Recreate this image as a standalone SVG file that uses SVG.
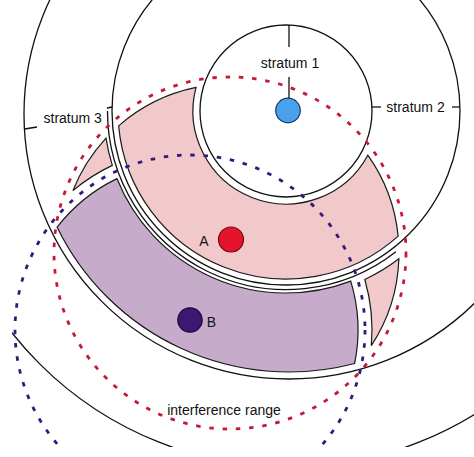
<svg xmlns="http://www.w3.org/2000/svg" width="474" height="457" viewBox="0 0 474 457">
<defs>
<clipPath id="frame"><rect x="12" y="0" width="462" height="447"/></clipPath>
</defs>
<style>
.line{fill:none;stroke:#111;stroke-width:1.3}
.region{stroke:#1a1a1a;stroke-width:1.2;stroke-linejoin:miter}
.pink{fill:#f2c9cb}
.purple{fill:#c6acca}
.rangeA{fill:none;stroke:#c41a35;stroke-width:2.8;stroke-dasharray:4.5 8.8}
.rangeB{fill:none;stroke:#33197d;stroke-width:2.8;stroke-dasharray:4.5 8.8}
.tick{stroke:#111;stroke-width:1.3}
text{font-family:"Liberation Sans",Arial,Helvetica,sans-serif;font-size:14px;fill:#111}
</style>
<rect width="474" height="457" fill="#fff"/>
<g clip-path="url(#frame)">
 <g id="strata">
  <circle class="line" cx="289" cy="114" r="353"/>
  <circle class="line" cx="289" cy="114" r="265"/>
  <circle class="line" cx="286" cy="111" r="174"/>
  <path class="line" d="M107.5,111 A178.5,178.5 0 0 0 395.9,251.7"/>
  <circle class="line" cx="286" cy="111" r="86"/>
 </g>
 <g id="region-A">
  <path class="region pink" d="M118.65,125.87 A168,168 0 0 0 398.15,236.09 A169,169 0 0 0 367.83,155.21 A93,93 0 0 1 196.03,87.45 A169,169 0 0 0 118.65,125.87 Z"/>
 </g>
 <g id="region-B">
  <path class="region purple" d="M117.04,178.66 A182,182 0 0 0 350.74,281.10 A168,168 0 0 1 354.63,363.51 A258,258 0 0 1 57.15,227.17 A168,168 0 0 1 117.04,178.66 Z"/>
 </g>
 <g id="sliver-left">
  <path class="region pink" d="M106.03,138.14 A182,182 0 0 0 112.32,165.41 A182,182 0 0 0 72.92,190.66 A169,169 0 0 1 106.03,138.14 Z"/>
 </g>
 <g id="sliver-right">
  <path class="region pink" d="M364.83,279.46 A186,186 0 0 0 398.91,258.82 A169,169 0 0 1 371.32,345.68 A182,182 0 0 0 364.83,279.46 Z"/>
 </g>
 <g id="connectors">
  <circle class="rangeA" cx="230" cy="253" r="176"/>
  <circle class="rangeB" cx="190" cy="330" r="175"/>
  <line class="tick" x1="289" y1="25" x2="289" y2="47"/>
  <line class="tick" x1="289" y1="77" x2="289" y2="110"/>
  <line class="tick" x1="372" y1="107" x2="381" y2="107"/>
  <line class="tick" x1="452" y1="107" x2="460" y2="107"/>
  <line class="tick" x1="24.5" y1="129" x2="37" y2="127"/>
  <line class="tick" x1="107" y1="108" x2="112.5" y2="107"/>
 </g>
</g>
<g id="node-center">
 <circle cx="288" cy="110.5" r="12.3" fill="#4aa0ea" stroke="#1b3a66" stroke-width="1.2"/>
</g>
<g id="node-A">
 <circle cx="231" cy="239.5" r="12.5" fill="#e5132b" stroke="#6e0a14" stroke-width="1.2"/>
 <text x="204" y="246" text-anchor="middle">A</text>
</g>
<g id="node-B">
 <circle cx="190" cy="320" r="12.2" fill="#3f1672" stroke="#1c0a36" stroke-width="1.2"/>
 <text x="211.5" y="327" text-anchor="middle">B</text>
</g>
<g id="labels">
 <text x="290" y="68" text-anchor="middle">stratum 1</text>
 <text x="415.5" y="112" text-anchor="middle">stratum 2</text>
 <text x="72.7" y="123" text-anchor="middle">stratum 3</text>
 <text x="224" y="415" text-anchor="middle">interference range</text>
</g>
</svg>
